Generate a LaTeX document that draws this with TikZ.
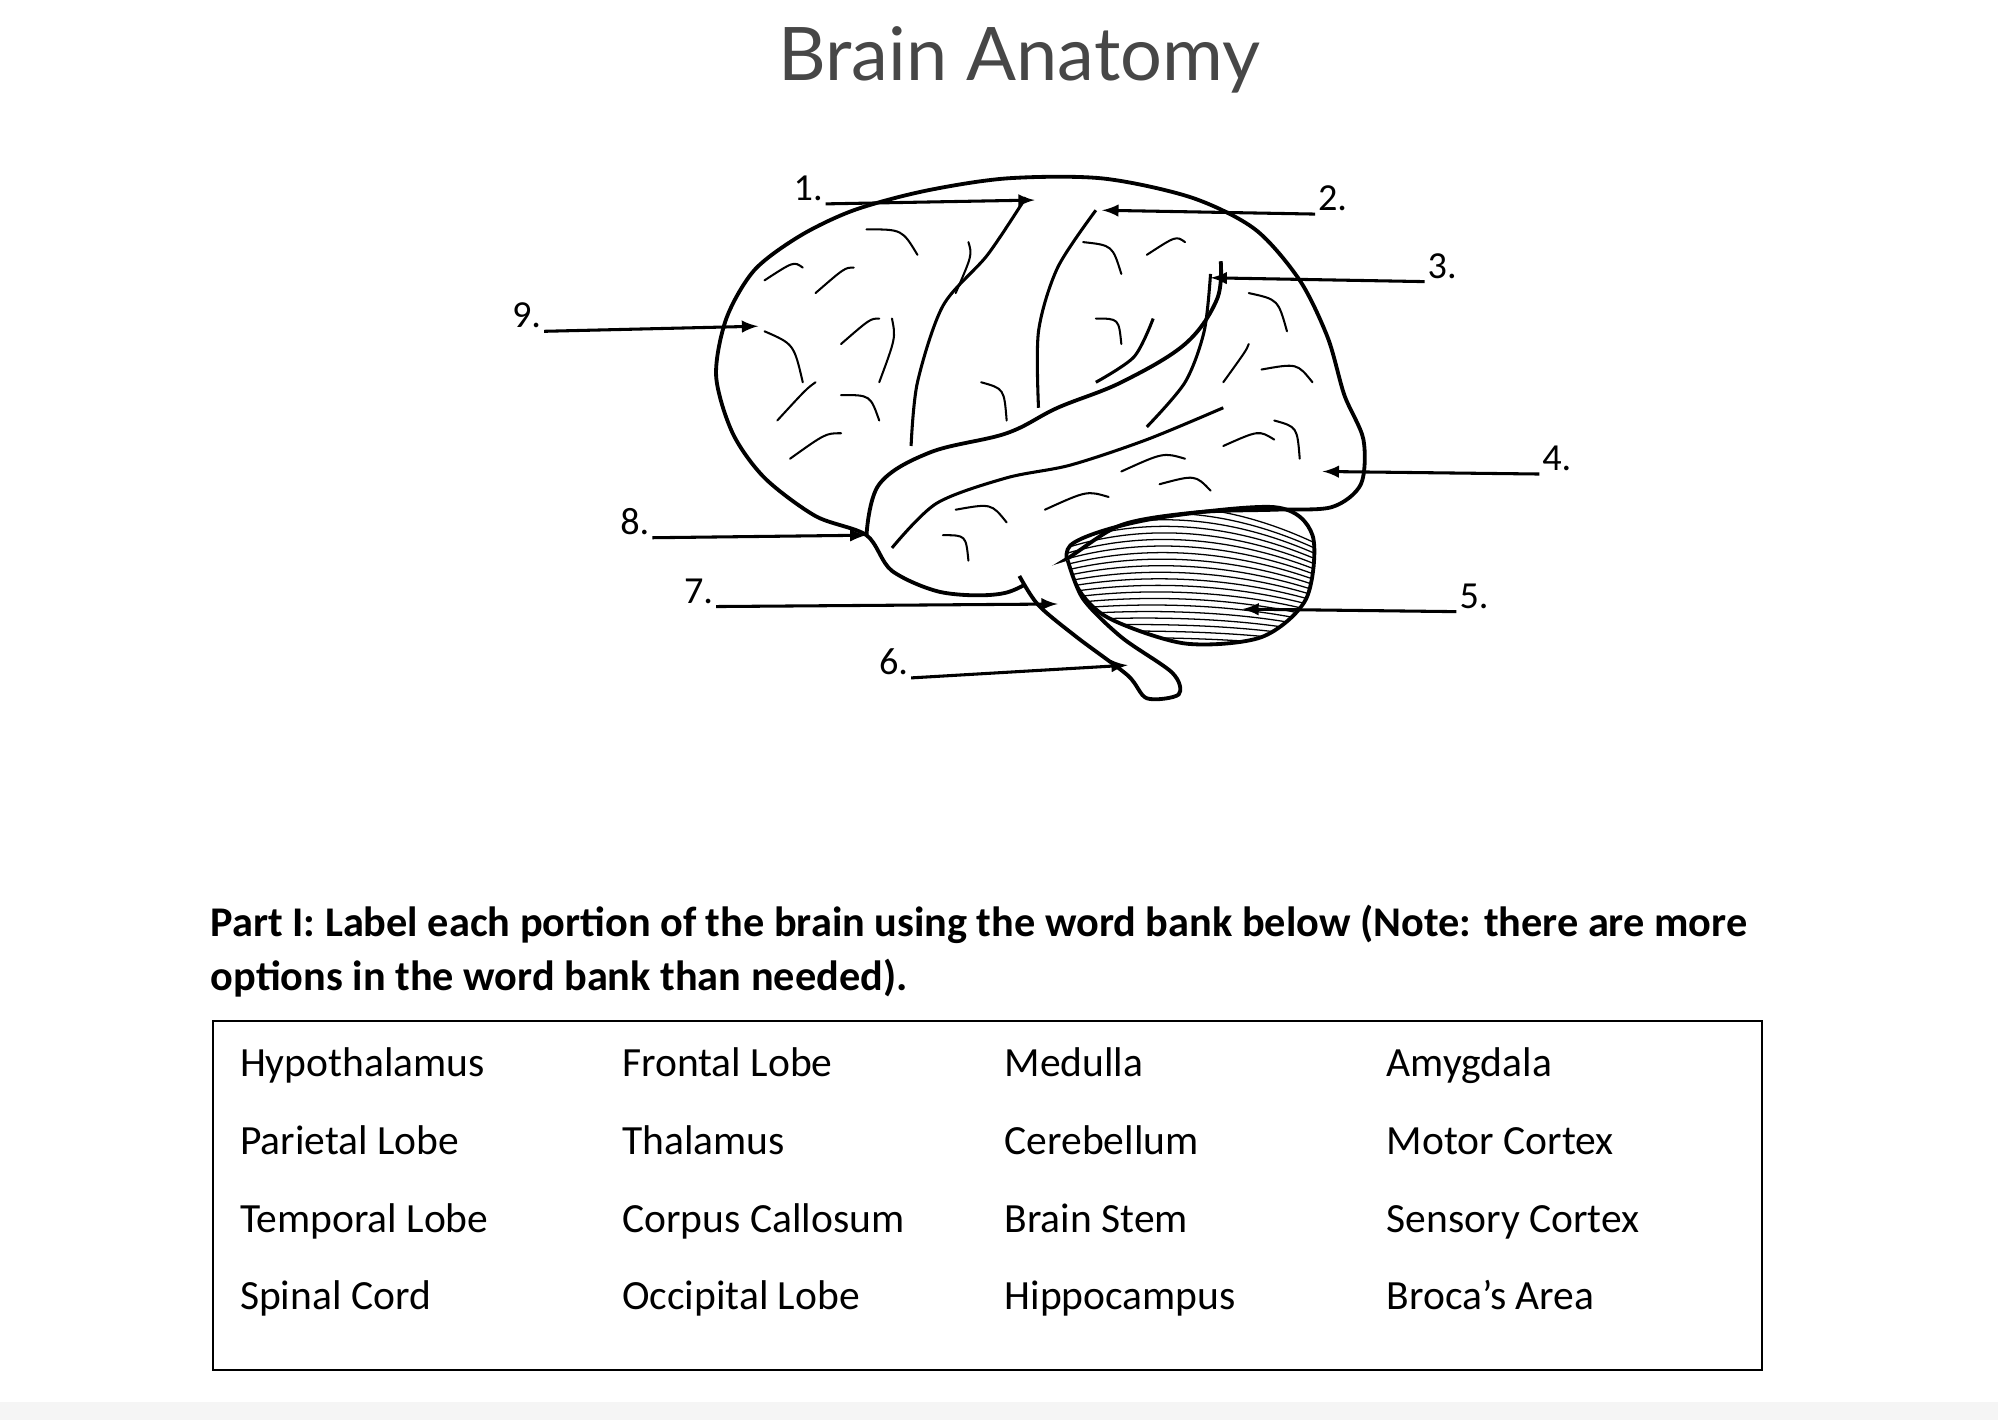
\documentclass[tikz,border=0pt]{standalone}
\usepackage{fontspec}
\setmainfont{Carlito}
\newfontfamily\titlefont{Lato}
\tikzset{
  lbl/.style={font=\fontsize{15}{17}\selectfont, inner sep=1pt},
  ptr/.style={-latex, line width=1.2pt},
  bank/.style={font=\fontsize{16.3}{19}\selectfont, anchor=base west, inner sep=0pt},
  gyrus/.style={line width=0.8pt, line cap=round}
}
\begin{document}
\begin{tikzpicture}[x=0.5pt,y=-0.5pt]
  \useasboundingbox (0,0) rectangle (1568,1114);
  \fill[gray!8] (0,1100) rectangle (1568,1114);
  \node[font=\titlefont\fontsize{29}{32}\selectfont, text=black!72] (title) at (800,47) {Brain Anatomy};

  % cerebrum outline
  \draw[line width=1.5pt, fill=white] plot[smooth cycle, tension=0.5] coordinates {
    (680,420) (640,405) (600,375) (575,340) (562,295) (570,250) (592,212)
    (628,185) (670,165) (725,150) (790,140) (865,140) (935,155) (985,180)
    (1020,220) (1042,265) (1055,310) (1070,345) (1068,380) (1045,398)
    (1000,400) (940,402) (880,412) (835,440) (790,465) (740,465) (700,448)};
  % temporal lobe / sylvian fissure
  \draw[line width=1.5pt] plot[smooth, tension=0.6] coordinates {
    (680,420) (690,380) (730,355) (790,340) (830,320) (880,300) (930,270) (955,235) (958,205)};
  \draw[line width=1.2pt] plot[smooth] coordinates {(700,430) (735,395) (790,375) (840,365) (900,345) (960,320)};
  % central sulcus and others
  \draw[line width=1.2pt] plot[smooth] coordinates {(805,155) (775,200) (740,240) (720,300) (715,350)};
  \draw[line width=1.2pt] plot[smooth] coordinates {(860,165) (830,210) (815,260) (815,320)};
  \draw[line width=1.2pt] plot[smooth] coordinates {(905,250) (890,280) (860,300)};
  \draw[line width=1.2pt] plot[smooth] coordinates {(950,215) (945,260) (930,300) (900,335)};
  % small gyri
  \foreach \a/\b/\c/\d in {
    600/260/630/300, 610/330/640/300, 640/230/670/210, 660/270/690/250,
    620/360/660/340, 680/180/720/200, 690/300/700/250, 760/190/750/230,
    660/310/690/330, 850/190/880/215, 980/230/1010/260, 990/290/1030/300,
    1000/330/1020/360, 960/350/1000/345, 980/270/960/300, 900/200/930/190,
    750/400/790/410, 820/400/870/390, 880/370/930/360, 770/300/790/330,
    860/250/880/270, 740/420/760/440, 910/380/950/385, 600/220/630/210}
    \draw[gyrus] (\a,\b) .. controls ({(\a+\c)/2+8},{(\b+\d)/2-10}) .. (\c,\d);
  % cerebellum
  \begin{scope}
    \clip plot[smooth cycle] coordinates {(840,428) (900,408) (1000,398) (1030,420) (1025,470) (990,500) (930,505) (870,485) (845,460)};
    \foreach \k in {0,...,22}
      \draw[line width=0.5pt] (820,{420+4*\k}) .. controls (900,{380+6*\k}) and (980,{400+5*\k}) .. (1040,{430+4*\k});
  \end{scope}
  \draw[line width=1.5pt] plot[smooth cycle] coordinates {(840,428) (900,408) (1000,398) (1030,420) (1025,470) (990,500) (930,505) (870,485) (845,460)};
  % brain stem
  \draw[line width=1.5pt, fill=white] plot[smooth] coordinates {(800,452) (815,475) (845,500) (885,530) (900,548) (925,545) (920,528) (880,500) (850,470) (838,440)};

  % label targets
  \coordinate (t1) at (812,157); \coordinate (t2) at (865,165);
  \coordinate (t3) at (950,218); \coordinate (t4) at (1038,370);
  \coordinate (t5) at (975,478); \coordinate (t6) at (885,522);
  \coordinate (t7) at (830,474); \coordinate (t8) at (680,420);
  \coordinate (t9) at (595,256);
  \node[lbl, anchor=south east] (n1) at (648,160) {1.};
  \node[lbl, anchor=south west] (n2) at (1032,168) {2.};
  \node[lbl, anchor=south west] (n3) at (1118,221) {3.};
  \node[lbl, anchor=south west] (n4) at (1208,372) {4.};
  \node[lbl, anchor=south west] (n5) at (1143,480) {5.};
  \node[lbl, anchor=south east] (n6) at (715,532) {6.};
  \node[lbl, anchor=south east] (n7) at (562,476) {7.};
  \node[lbl, anchor=south east] (n8) at (512,422) {8.};
  \node[lbl, anchor=south east] (n9) at (427,260) {9.};
  \draw[ptr] (n1.south east) -- (t1);
  \draw[ptr] (n2.south west) -- (t2);
  \draw[ptr] (n3.south west) -- (t3);
  \draw[ptr] (n4.south west) -- (t4);
  \draw[ptr] (n5.south west) -- (t5);
  \draw[ptr] (n6.south east) -- (t6);
  \draw[ptr] (n7.south east) -- (t7);
  \draw[ptr] (n8.south east) -- (t8);
  \draw[ptr] (n9.south east) -- (t9);

  % word bank
  \node[font=\bfseries\fontsize{16.6}{21}\selectfont, anchor=north west, align=left, inner sep=0pt] (part) at (165,710)
    {Part I: Label each portion of the brain using the word bank below (Note: there are more\\options in the word bank than needed).};
  \draw[line width=0.8pt] (167,801) rectangle (1383,1075);
  \foreach \w [count=\i from 0] in {Hypothalamus,Parietal Lobe,Temporal Lobe,Spinal Cord}
    \node[bank] (a\i) at (188,{845+61*\i}) {\w};
  \foreach \w [count=\i from 0] in {Frontal Lobe,Thalamus,Corpus Callosum,Occipital Lobe}
    \node[bank] (b\i) at (488,{845+61*\i}) {\w};
  \foreach \w [count=\i from 0] in {Medulla,Cerebellum,Brain Stem,Hippocampus}
    \node[bank] (c\i) at (788,{845+61*\i}) {\w};
  \foreach \w [count=\i from 0] in {Amygdala,Motor Cortex,Sensory Cortex,Broca’s Area}
    \node[bank] (d\i) at (1088,{845+61*\i}) {\w};
\end{tikzpicture}
\end{document}
